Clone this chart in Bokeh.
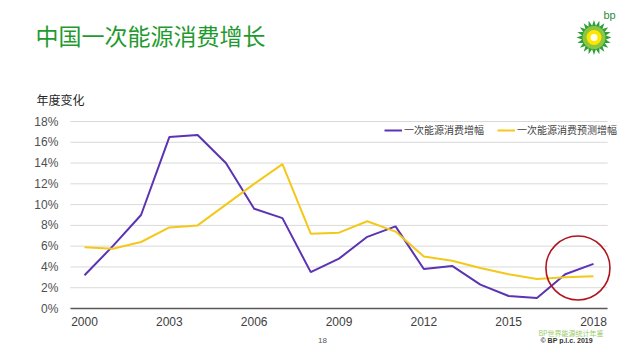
import numpy as np
from bokeh.plotting import figure
from bokeh.models import Range1d, FixedTicker, Legend, LegendItem, LinearAxis
from bokeh.core.properties import value
from bokeh.embed import file_html
from bokeh.resources import INLINE

# ---------------- data ----------------
years = [2000, 2001, 2002, 2003, 2004, 2005, 2006, 2007, 2008, 2009,
         2010, 2011, 2012, 2013, 2014, 2015, 2016, 2017, 2018]
growth = [3.2, 6.0, 9.0, 16.5, 16.7, 14.0, 9.6, 8.7, 3.5, 4.8,
          6.9, 7.9, 3.8, 4.1, 2.3, 1.2, 1.0, 3.3, 4.3]
forecast = [5.9, 5.75, 6.4, 7.8, 8.0, 10.0, 12.0, 13.9, 7.2, 7.3,
            8.4, 7.4, 5.0, 4.6, 3.9, 3.3, 2.85, 3.0, 3.1]
x_ticks = [2000, 2003, 2006, 2009, 2012, 2015, 2018]
x_tick_labels = ["2000", "2003", "2006", "2009", "2012", "2015", "2018"]
y_ticks = [0, 2, 4, 6, 8, 10, 12, 14, 16, 18]
y_tick_labels = ["0%", "2%", "4%", "6%", "8%", "10%", "12%", "14%", "16%", "18%"]
series_names = ["一次能源消费增幅", "一次能源消费预测增幅"]
title_text = "中国一次能源消费增长"
y_title = "年度变化"
source_note = "BP世界能源统计年鉴"
copyright_note = "© BP p.l.c. 2019"
page_number = "18"
highlight_year = 2017.45
highlight_value = 3.9

CJK = "Noto Sans CJK SC"
LAT = "Liberation Sans"
PURPLE = "#5B33B3"
YELLOW = "#F4C81A"
GREEN = "#1F9A2F"

# ---------------- canvas geometry (layout only) ----------------
W, H = 624, 344
X0_PX, X1_PX = 84, 593      # canvas px of first / last year
Y0_PX, Y18_PX = 308, 121    # canvas px of 0% / 18%
kx = (X1_PX - X0_PX) / (years[-1] - years[0])
ky = (Y0_PX - Y18_PX) / 18.0
x_start = years[0] - X0_PX / kx
x_end = years[0] + (W - X0_PX) / kx
y_end = Y0_PX / ky
y_start = -(H - Y0_PX) / ky


def cx(px):
    return x_start + px / kx


def cy(py):
    return y_end - py / ky


p = figure(width=W, height=H, x_range=Range1d(x_start, x_end), y_range=Range1d(y_start, y_end),
           x_axis_type=None, y_axis_type=None, toolbar_location=None,
           output_backend="svg", title=None, min_border=0,
           min_border_left=0, min_border_right=0, min_border_top=0, min_border_bottom=0)
p.outline_line_color = None
p.grid.visible = False

x_lo = years[0] - 0.5
x_hi = years[-1] + 0.5

# grid lines
p.segment(x0=[x_lo] * len(y_ticks), x1=[x_hi] * len(y_ticks), y0=y_ticks, y1=y_ticks,
          line_color="#D9D9D9", line_width=1)

# axes drawn inside the frame
xaxis = LinearAxis(fixed_location=0, ticker=FixedTicker(ticks=x_ticks), bounds=(x_lo, x_hi))
xaxis.major_label_overrides = {t: l for t, l in zip(x_ticks, x_tick_labels)}
xaxis.axis_line_color = "#595959"
xaxis.axis_line_width = 1.5
xaxis.major_tick_line_color = None
xaxis.minor_tick_line_color = None
xaxis.major_tick_out = 0
xaxis.major_tick_in = 0
xaxis.major_label_standoff = 8
xaxis.major_label_text_font = LAT
xaxis.major_label_text_font_size = "12px"
xaxis.major_label_text_color = "#404040"
p.add_layout(xaxis, "below")

yaxis = LinearAxis(fixed_location=x_lo, ticker=FixedTicker(ticks=y_ticks))
yaxis.major_label_overrides = {t: l for t, l in zip(y_ticks, y_tick_labels)}
yaxis.axis_line_color = None
yaxis.major_tick_line_color = None
yaxis.minor_tick_line_color = None
yaxis.major_tick_out = 0
yaxis.major_tick_in = 0
yaxis.major_label_standoff = 12
yaxis.major_label_text_font = LAT
yaxis.major_label_text_font_size = "12px"
yaxis.major_label_text_color = "#505050"
p.add_layout(yaxis, "left")

# series
r1 = p.line(years, growth, line_color=PURPLE, line_width=2)
r2 = p.line(years, forecast, line_color=YELLOW, line_width=2)
p.scatter([highlight_year], [highlight_value], size=64, marker="circle", fill_color=None,
          line_color="#B0121E", line_width=1.6)

legend = Legend(items=[LegendItem(label=series_names[0], renderers=[r1]),
                       LegendItem(label=series_names[1], renderers=[r2])],
                orientation="horizontal", location=(384, 207),
                padding=2, margin=0, spacing=13, label_standoff=2,
                glyph_width=18, glyph_height=10, label_height=10,
                label_text_font=CJK, label_text_font_size="10px", label_text_color="#404040",
                background_fill_color="white", background_fill_alpha=1.0,
                border_line_color=None)
p.add_layout(legend, "center")

# ---------------- header decorations ----------------
p.text(x=[cx(35)], y=[cy(34)], text=[title_text], text_font=value(CJK), text_font_size="23px",
       text_baseline="middle", text_align="left", text_color=GREEN)
p.text(x=[cx(36)], y=[cy(99)], text=[y_title], text_font=value(CJK), text_font_size="12px",
       text_baseline="middle", text_align="left", text_color="#262626")

# BP logo (decoration)
lx, ly = 593.5, 37.0
ang = np.linspace(0, 2 * np.pi, 41)[:-1]
rad = np.where(np.arange(40) % 2 == 0, 17.5, 12.0)
p.patch(cx(lx + rad * np.cos(ang)), cy(ly + rad * np.sin(ang)), fill_color="#2E9E3A", line_color=None)
p.scatter([cx(lx)], [cy(ly)], size=23, marker="circle", fill_color="#8DC63F", line_color=None)
p.scatter([cx(lx)], [cy(ly)], size=15, marker="circle", fill_color="#FFE600", line_color=None)
p.scatter([cx(lx)], [cy(ly)], size=7, marker="circle", fill_color="#FFFFF0", line_color=None)
p.text(x=[cx(609)], y=[cy(14)], text=["bp"], text_font=value(LAT), text_font_size="11px",
       text_baseline="middle", text_align="center", text_color="#2E8B3A")

# ---------------- footer decorations ----------------
p.text(x=[cx(538)], y=[cy(332)], text=[source_note], text_font=value(CJK), text_font_size="7px",
       text_baseline="middle", text_align="left", text_color="#9CCB6A")
p.text(x=[cx(540)], y=[cy(339.5)], text=[copyright_note], text_font=value(LAT), text_font_size="7px",
       text_baseline="middle", text_align="left", text_color="#333333", text_font_style="bold")
p.text(x=[cx(322)], y=[cy(339.5)], text=[page_number], text_font=value(LAT), text_font_size="8px",
       text_baseline="middle", text_align="center", text_color="#595959")

open("out.html", "w").write(file_html(p, INLINE))
